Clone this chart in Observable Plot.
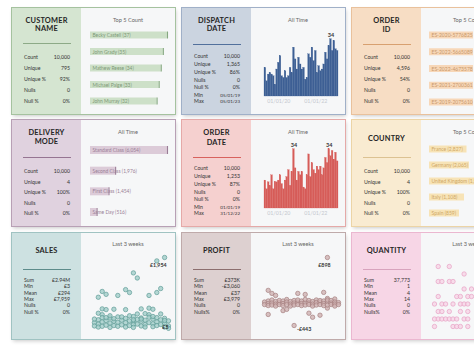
<!DOCTYPE html>
<html><head><meta charset="utf-8">
<script src="https://cdn.jsdelivr.net/npm/d3@7"></script>
<script src="https://cdn.jsdelivr.net/npm/@observablehq/plot@0.6"></script>
<style>
html,body{margin:0;padding:0;background:#fff;}
body{width:474px;height:355px;overflow:hidden;position:relative;font-family:Lato,"Open Sans",sans-serif;color:#333;}
.card{position:absolute;width:163px;height:106px;}
.left{position:absolute;left:0;top:0;width:69px;height:106px;}
.right{position:absolute;left:69px;top:0;width:94px;height:106px;background:#f6f7f8;overflow:hidden;}
.t{position:absolute;transform:translateY(-50%);white-space:nowrap;line-height:1;}
.title{left:0;width:69px;text-align:center;font-weight:700;font-size:7.4px;color:#262626;letter-spacing:.2px}
.lab{left:12px;font-size:5.2px;color:#333}
.val{right:11px;font-size:5.2px;text-align:right;color:#333}
.small{font-size:4.5px}
.sub{left:0;width:94px;text-align:center;font-size:5.6px;color:#666}
.div{position:absolute;left:11px;width:48px;height:1px}
.right svg{position:absolute;left:0;top:0;overflow:visible;max-width:none}
</style></head><body>
<script>
// ---------- DATA ----------
const customerNames = ["Becky Castell","John Grady","Mathew Reese","Michael Paige","John Murray"];
const customerCounts = [37,35,34,33,32];
const deliveryModes = ["Standard Class","Second Class","First Class","Same Day"];
const deliveryCounts = [6054,1976,1454,516];
const orderIds = ["ES-2020-5776825","ES-2022-5665089","ES-2022-4673578","ES-2021-2700361","ES-2019-2075610"];
const countries = ["France","Germany","United Kingdom","Italy","Spain"];
const countryCounts = [2827,2065,1941,1108,859];

const dispatchCounts = [17,9,13,14,13,12,7,16,20,24,12,11,15,11,12,17,14,29,22,16,23,19,16,17,10,11,25,23,29,21,27,14,18,15,16,19,26,22,30,34,27,33,28,27];
const orderDateCounts = [16,11,15,13,19,11,15,15,16,19,14,11,16,18,22,13,21,34,23,16,21,19,21,12,11,19,31,18,26,22,20,24,22,24,19,23,29,26,34,30,33,28,32,27];
const histTickIndex = [8,30];
const histTickLabels = ["01/01/20","01/01/22"];

const salesDays = [19,17,11,12,3,2,4,7,9,10,15,17,18, 3,4,6,9,13,15,16, 2,3,12,14,15,18,
  1,1,2,2,2,3,3,3,4,4,5,5,5,6,6,7,7,7,8,8,9,9,9,10,10,11,11,11,11,12,12,13,13,13,14,14,14,15,15,16,16,16,17,17,17,18,18,19,19,19,20,20,20,
  1,4,6,8,10,13,16,19,5,11];
const salesValues = [1954,1860,1530,1390,1020,860,940,910,1070,990,910,990,1100, 540,520,530,520,540,560,530, 420,380,400,410,380,400,
  160,70,240,120,40,300,180,60,220,90,290,150,30,200,80,320,170,60,230,100,280,160,40,210,80,330,190,110,30,250,120,290,200,70,230,110,40,310,160,260,130,50,300,180,80,240,110,280,150,40,210,70,5,
  260,300,270,320,350,260,330,220,350,240];

const profitDays = [17,8,1,2,3,9,11,16,17,19,1,5,6,12,13,15,17,
  0,0,1,1,1,2,2,2,3,3,3,4,4,4,5,5,5,6,6,6,7,7,7,8,8,8,9,9,9,10,10,10,11,11,11,12,12,12,13,13,13,14,14,14,15,15,15,16,16,16,17,17,17,18,18,18,19,19,19,20,20];
const profitValues = [898,-443,250,190,150,190,170,210,90,80,-225,-150,-125,-200,-280,-240,-100,
  20,-30,40,-10,-50,60,0,-40,30,-20,-60,10,-30,50,40,-10,-50,70,20,-30,30,-20,-60,50,0,-40,20,-30,60,40,-10,-50,10,-40,70,50,0,-30,30,-20,-60,60,10,-40,20,-30,50,40,-10,-50,30,-40,60,50,0,-30,20,-20,-60,10,-30];

const quantityDays = [1,4, 8, 1,2,4,5, 8,10, 1,6,7,9,10, 0,2,3,5,7,8,9, 1,2,4,7,9, 0,1,2,3,4,5,6,8,9, 0,5,6,7,9];
const quantityValues = [9,9, 8, 7,7,7,7, 6,6, 5,5,5,5,5, 4,4,4,4,4,4,4, 3,3,3,3,3, 2,2,2,2,2,2,2,2,2, 1,1,1,1,1];

const statLabels5 = ["Count","Unique","Unique %","Nulls","Null %"];
const statLabels7 = ["Count","Unique","Unique %","Nulls","Null %","Min","Max"];
const customerStats = ["10,000","795","92%","0","0%"];
const dispatchStats = ["10,000","1,365","86%","0","0%","05/01/19","05/01/23"];
const orderIdStats = ["10,000","4,596","54%","0","0%"];
const deliveryStats = ["10,000","4","100%","0","0%"];
const orderDateStats = ["10,000","1,253","87%","0","0%","01/01/19","31/12/22"];
const countryStats = ["10,000","4","100%","0","0%"];
const salesLabels = ["Sum","Min","Mean","Max","Nulls","Null %"];
const salesStats = ["£2.94M","£3","£294","£7,959","0","0%"];
const profitLabels = ["Sum","Min","Mean","Max","Nulls","Nulls%"];
const profitStats = ["£373K","-£3,060","£37","£3,979","0","0%"];
const quantityLabels = ["Sum","Min","Mean","Max","Nulls","Nulls%"];
const quantityStats = ["37,773","1","4","14","0","0%"];

// ---------- HELPERS ----------
const fmt = d3.format(",");
const money = v => (v < 0 ? "-£" : "£") + fmt(Math.abs(v));
function bandRange(c0, step, bw, n) {
  const p = 1 - bw / step;
  const top = c0 - step * (1 + p) / 2;
  return {range: [top, top + step * (n + p)], padding: p};
}
function el(tag, cls, parent, txt) {
  const e = document.createElement(tag); if (cls) e.className = cls;
  if (txt != null) e.textContent = txt; parent.appendChild(e); return e;
}
const baseStyle = {background: "transparent", fontFamily: "Lato, sans-serif", overflow: "visible"};

function makeCard(spec) {
  const c = el("div", "card", document.body);
  c.style.left = spec.x + "px"; c.style.top = spec.y + "px";
  c.style.boxShadow = `0 0 0 1px ${spec.border}, 1px 2px 4px rgba(0,0,0,0.22)`;
  const L = el("div", "left", c); L.style.background = spec.bg;
  spec.title.forEach((t, i) => { const e = el("div", "t title", L, t); e.style.top = spec.titleY[i] + "px"; });
  const d = el("div", "div", L); d.style.top = spec.divY + "px"; d.style.background = spec.div;
  spec.labels.forEach((lab, i) => {
    const a = el("div", "t lab", L, lab); a.style.top = spec.rowY[i] + "px";
    const b = el("div", "t val" + (i >= 5 && spec.labels.length === 7 ? " small" : ""), L, spec.values[i]); b.style.top = spec.rowY[i] + "px";
  });
  const R = el("div", "right", c);
  const s = el("div", "t sub", R, spec.sub); s.style.top = spec.subY + "px";
  R.appendChild(spec.plot());
}

const rows5a = [50,61,72,83,94];
const rows5b = [52,62.5,73,83.5,94];
const rows7 = [48.5,56.5,64.5,72.5,80,88,94];
const rows6 = [48,54.3,60.6,66.9,73.2,79.5];

// ---------- CHARTS ----------
function topBars(names, counts, c0, step, bw, fill, tick, txt) {
  const data = names.map((n, i) => ({name: n, count: counts[i], label: `${n} (${fmt(counts[i])})`}));
  const b = bandRange(c0, step, bw, names.length);
  return () => Plot.plot({
    width: 94, height: 106, margin: 0, style: baseStyle,
    x: {domain: [0, d3.max(counts)], range: [9, 86], axis: null},
    y: {domain: names, range: b.range, padding: b.padding, round: false, axis: null},
    marks: [
      Plot.barX(data, {x: "count", y: "name", fill}),
      Plot.text(data, {x: 0, y: "name", text: "label", textAnchor: "start", dx: 2, fill: txt, fontSize: 4.9}),
      Plot.tickX(data, {x: "count", y: "name", stroke: tick, strokeWidth: 1.1})
    ]
  });
}
function highlightList(names, labels, c0, step, bw, charW, fill, txt) {
  const data = names.map((n, i) => ({name: n, label: labels[i]}));
  const b = bandRange(c0, step, bw, names.length);
  return () => Plot.plot({
    width: 94, height: 106, margin: 0, style: baseStyle,
    x: {domain: [0, 1], range: [8, 8 + charW], axis: null},
    y: {domain: names, range: b.range, padding: b.padding, round: false, axis: null},
    marks: [
      Plot.barX(data, {x1: 0, x2: d => d.label.length + 1, y: "name", fill}),
      Plot.text(data, {x: 0, y: "name", text: "label", textAnchor: "start", dx: 2, fill: txt, fontSize: 5})
    ]
  });
}
function hist(counts, topMargin, fill) {
  const data = counts.map((v, i) => ({i, v}));
  const mx = d3.max(counts);
  return () => Plot.plot({
    width: 94, height: 106, marginLeft: 13, marginRight: 7, marginTop: topMargin, marginBottom: 18, style: baseStyle,
    x: {type: "band", domain: d3.range(counts.length), padding: 0, round: false, label: null},
    y: {domain: [0, mx], axis: null},
    marks: [
      Plot.barY(data, {x: "i", y: "v", fill, stroke: fill, strokeWidth: 0.25}),
      Plot.text(data.filter(d => d.v === mx), {x: "i", y: "v", text: d => String(d.v), dy: -4, fontSize: 5.5, fontWeight: "bold", fill: "#333"}),
      Plot.axisX({ticks: histTickIndex, tickFormat: d => histTickLabels[histTickIndex.indexOf(d)], tickSize: 0, tickPadding: 3, fontSize: 5.3, fill: "#c4c8cf", label: null})
    ]
  });
}
function scatter(days, values, opts) {
  const data = days.map((d, i) => ({day: d, v: values[i]}));
  const mx = d3.greatest(data, d => d.v), mn = d3.least(data, d => d.v);
  return () => Plot.plot({
    width: 94, height: 106, marginLeft: opts.ml, marginRight: 7, marginTop: opts.mt, marginBottom: opts.mb, style: baseStyle,
    x: {domain: [0, 20], axis: null},
    y: {domain: opts.domain || d3.extent(values), axis: null},
    marks: [
      Plot.dot(data, {x: "day", y: "v", r: 2.2, fill: opts.fill, fillOpacity: 0.8, stroke: opts.stroke, strokeWidth: 0.7}),
      ...(opts.labels ? [
        Plot.text([mx], {x: "day", y: "v", text: d => money(d.v), ...opts.maxPos, fontSize: 5.3, fontWeight: "bold", fill: "#333"}),
        Plot.text([mn], {x: "day", y: "v", text: d => money(d.v), ...opts.minPos, fontSize: 5.3, fontWeight: "bold", fill: "#333"})
      ] : [])
    ]
  });
}

// ---------- CARDS ----------
const cards = [
  {x: 12, y: 8, bg: "#d5e5d1", border: "#a5c29f", div: "#8daa87", title: ["CUSTOMER","NAME"], titleY: [13,21], divY: 35,
   labels: statLabels5, values: customerStats, rowY: rows5a, sub: "Top 5 Count", subY: 12,
   plot: topBars(customerNames, customerCounts, 27, 16.5, 7, "#cde0c8", "#86a880", "#7d9977")},
  {x: 182, y: 8, bg: "#cbd4e0", border: "#a0b0c8", div: "#52709c", title: ["DISPATCH","DATE"], titleY: [13,21], divY: 36,
   labels: statLabels7, values: dispatchStats, rowY: rows7, sub: "All Time", subY: 12,
   plot: hist(dispatchCounts, 30.7, "#3d5f94")},
  {x: 352, y: 8, bg: "#f7ddc4", border: "#e9c19c", div: "#d8a070", title: ["ORDER","ID"], titleY: [13,22], divY: 36,
   labels: statLabels5, values: orderIdStats, rowY: rows5a, sub: "Top 5 Count", subY: 12,
   plot: highlightList(orderIds, orderIds, 27, 16.75, 7, 2.75, "#f7d7b8", "#c8976b")},
  {x: 12, y: 120, bg: "#e0d2df", border: "#b8a0b5", div: "#967592", title: ["DELIVERY","MODE"], titleY: [13,22], divY: 37,
   labels: statLabels5, values: deliveryStats, rowY: rows5b, sub: "All Time", subY: 12,
   plot: topBars(deliveryModes, deliveryCounts, 30, 20.67, 8, "#dccbd8", "#9a7d96", "#9a8097")},
  {x: 182, y: 120, bg: "#f5d0cf", border: "#e5a9a8", div: "#d8625e", title: ["ORDER","DATE"], titleY: [13,23], divY: 37,
   labels: statLabels7, values: orderDateStats, rowY: rows7, sub: "All Time", subY: 12,
   plot: hist(orderDateCounts, 28.7, "#d65c58")},
  {x: 352, y: 120, bg: "#f9ebd1", border: "#ecd4a6", div: "#dcc292", title: ["COUNTRY"], titleY: [19], divY: 37,
   labels: statLabels5, values: countryStats, rowY: rows5b, sub: "Top 5 Count", subY: 12,
   plot: highlightList(countries, countries.map((c, i) => `${c} (${fmt(countryCounts[i])})`), 29, 16, 7, 2.5, "#f7e3b6", "#cfa866")},
  {x: 12, y: 233, bg: "#cde1e1", border: "#a0c3c2", div: "#5d8c8b", title: ["SALES"], titleY: [18], divY: 36,
   labels: salesLabels, values: salesStats, rowY: rows6, sub: "Last 3 weeks", subY: 11,
   plot: scatter(salesDays, salesValues, {ml: 9, mt: 24, mb: 11, domain: [0, 1954], fill: "#a3cdc9", stroke: "#5e9c96", labels: true,
     maxPos: {textAnchor: "end", dx: 2, dy: 8}, minPos: {textAnchor: "end", dx: 0, dy: -1}})},
  {x: 182, y: 233, bg: "#ddd0d0", border: "#bfaaaa", div: "#8c6e6e", title: ["PROFIT"], titleY: [18], divY: 36,
   labels: profitLabels, values: profitStats, rowY: rows6, sub: "Last 3 weeks", subY: 11,
   plot: scatter(profitDays, profitValues, {ml: 13, mt: 24, mb: 14, domain: [-443, 898], fill: "#cfb2b2", stroke: "#a57f7f", labels: true,
     maxPos: {textAnchor: "middle", dx: -3, dy: 8}, minPos: {textAnchor: "middle", dx: 10, dy: 4}})},
  {x: 352, y: 233, bg: "#f7d6e6", border: "#ebb7d0", div: "#d8a3bd", title: ["QUANTITY"], titleY: [18], divY: 36,
   labels: quantityLabels, values: quantityStats, rowY: rows6, sub: "Last 3 weeks", subY: 11,
   plot: scatter(quantityDays, quantityValues, {ml: 13, mt: 33, mb: 13, domain: [1, 9], fill: "#f8d5e6", stroke: "#e6a2c4", labels: false})}
];
cards.forEach(makeCard);
</script></body></html>
